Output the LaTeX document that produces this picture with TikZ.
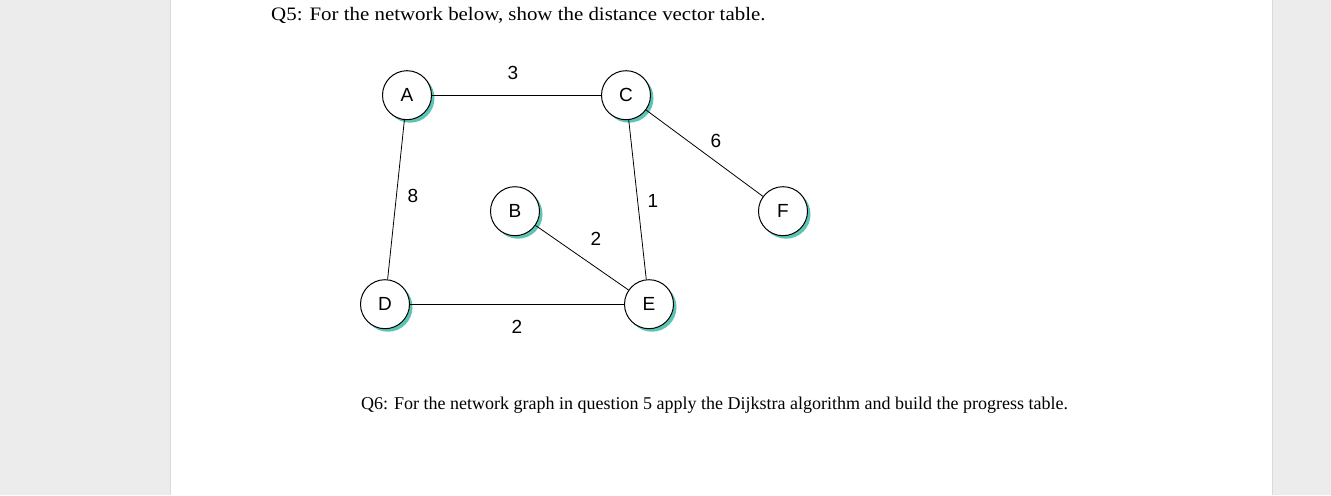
\documentclass[tikz,border=0pt]{standalone}
\usepackage{fontspec}
\setmainfont{Liberation Serif}
\newfontfamily\sans{Liberation Sans}
\definecolor{bg}{HTML}{ECECEC}
\definecolor{shad}{HTML}{5CC4B4}
\begin{document}
\begin{tikzpicture}[x=1pt,y=-1pt,
  nd/.style={circle,draw=black,line width=1pt,fill=white,minimum size=49pt,inner sep=0pt,font=\sans\fontsize{19}{19}\selectfont},
  sh/.style={circle,fill=shad,minimum size=49pt,inner sep=0pt},
  ed/.style={line width=0.8pt},
  lb/.style={font=\sans\fontsize{19}{19}\selectfont},
  q/.style={anchor=west,inner sep=0pt}]
\fill[bg] (0,0) rectangle (1331,495);
\fill[white] (170,0) rectangle (1272,495);
\draw[black!15] (170,0) -- (170,495) (1272,0) -- (1272,495);
\node[q,font=\fontsize{19}{19}\selectfont,xscale=1.1] (q5) at (271,15) {Q5: For the network below, show the distance vector table.};
\node[q,font=\fontsize{18}{18}\selectfont] (q6) at (361,405) {Q6: For the network graph in question 5 apply the Dijkstra algorithm and build the progress table.};
\foreach \n/\x/\y in {A/407/95,C/626/95,B/515/211,F/783/211,D/385/304,E/649/304}{
  \node[sh] at (\x+3,\y+3) {};
}
\node[nd] (A) at (407,95) {A};
\node[nd] (C) at (626,95) {C};
\node[nd] (B) at (515,211) {B};
\node[nd] (F) at (783,211) {F};
\node[nd] (D) at (385,304) {D};
\node[nd] (E) at (649,304) {E};
\draw[ed] (A) -- (C);
\draw[ed] (A) -- (D);
\draw[ed] (C) -- (E);
\draw[ed] (C) -- (F);
\draw[ed] (B) -- (E);
\draw[ed] (D) -- (E);
\node[lb] (l1) at (513,73) {3};
\node[lb] (l2) at (413,196) {8};
\node[lb] (l3) at (653,201) {1};
\node[lb] (l4) at (716,141) {6};
\node[lb] (l5) at (596,239) {2};
\node[lb] (l6) at (517,327) {2};
\end{tikzpicture}
\end{document}
